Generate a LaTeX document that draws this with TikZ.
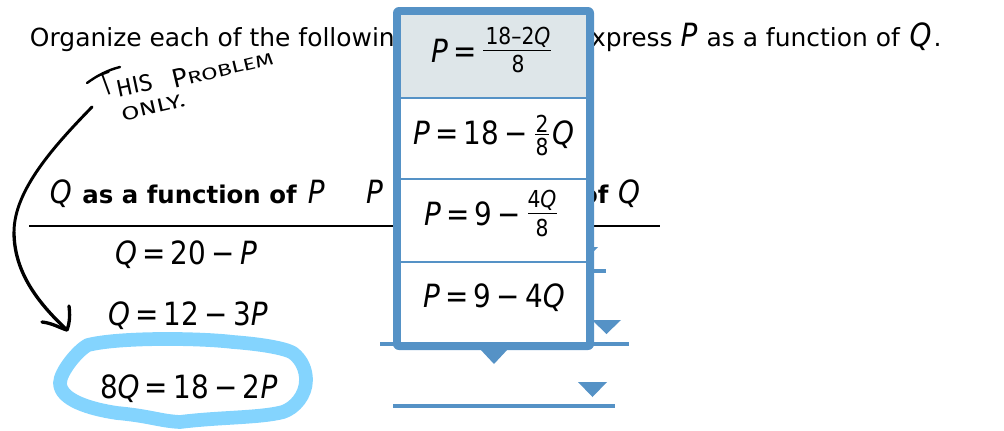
\documentclass[tikz,border=0pt]{standalone}
\usepackage{fontspec}
\setmainfont{DejaVu Sans}
\newfontfamily\mathf[FakeStretch=0.87]{DejaVu Sans}
\newfontfamily\handfont{Fira Sans}
\newfontfamily\handwide[FakeStretch=1.4]{Fira Sans}
\newfontfamily\handlight{Fira Sans Light}
\definecolor{popblue}{HTML}{5592C6}
\definecolor{selrow}{HTML}{DEE6E9}
\definecolor{marker}{HTML}{84D4FE}
\newcommand{\vP}{{\itshape P}}
\newcommand{\vQ}{{\itshape Q}}
\newcommand{\gp}{\hspace{.165em}}
\newcommand{\eqtext}[1]{\mathf\fontsize{24pt}{26pt}\selectfont #1}
\newcommand{\fractext}[1]{\mathf\fontsize{17.5pt}{20pt}\selectfont #1}
\newcommand{\bigvar}[1]{{\mathf\mdseries\fontsize{24pt}{26pt}\selectfont\itshape #1}}
\tikzset{
  x=0.75pt,y=-0.75pt,
  txt/.style={anchor=base west,inner sep=0pt,outer sep=0pt,text=black},
  ctr/.style={anchor=base,inner sep=0pt,outer sep=0pt,text=black},
  title/.style={txt,font=\fontsize{18.7pt}{22pt}\selectfont},
  head/.style={txt,font=\fontsize{18.3pt}{22pt}\selectfont},
  hand/.style={inner sep=0pt,outer sep=0pt,anchor=base west},
  ansrule/.style={draw=popblue,line width=3pt},
  drop/.style={fill=popblue},
  sep/.style={draw=popblue,line width=1.5pt},
  fbar/.style={draw=black,line width=1.4pt},
  pen/.style={draw=black,line width=2.5pt,line cap=round,line join=round},
}
\begin{document}
\begin{tikzpicture}
\useasboundingbox (0,0) rectangle (1004,430);
% title
\node[title] (t1) at (30,46) {Organize each of the following};
\node[title] (t2) at (591,46) {xpress \bigvar{P}\hspace{1pt} as a function of\hspace{1.5pt} \bigvar{Q}\hspace{1.5pt}.};
% header
\node[head] (h1) at (50,203) {\bigvar{Q}\hspace{2pt} \bfseries as a function of\hspace{2pt} \bigvar{P}};
\node[head] (h2) at (366,203) {\bigvar{P}};
\node[head] (h3) at (581,203) {\bfseries of\hspace{1pt} \bigvar{Q}};
\draw[black,line width=1.5pt] (29,226) -- (660,226);
% left equations
\node[txt] (e1) at (115,264) {\eqtext{\vQ\gp=\gp20\gp−\gp\vP}};
\node[txt] (e2) at (108,325) {\eqtext{\vQ\gp=\gp12\gp−\gp3\vP}};
\node[txt] (e3) at (100,398) {\eqtext{8\vQ\gp=\gp18\gp−\gp2\vP}};
% answer blanks
\draw[ansrule] (560,270.5) -- (606,270.5);
\draw[ansrule] (380,343.5) -- (629,343.5);
\draw[ansrule] (393,405.5) -- (615,405.5);
\fill[drop] (569,247) -- (598,247) -- (583.5,262) -- cycle;
\fill[drop] (592,320) -- (621,320) -- (606.5,334) -- cycle;
\fill[drop] (578,382) -- (607,382) -- (592.5,397) -- cycle;
% popup
\fill[popblue,rounded corners=6*0.75pt] (393,7) rectangle (594,350);
\fill[drop] (480,349) -- (508,349) -- (494,364) -- cycle;
\fill[white] (401,15) rectangle (586,342);
\fill[selrow] (401,15) rectangle (586,97);
\draw[sep] (401,98) -- (586,98);
\draw[sep] (401,179) -- (586,179);
\draw[sep] (401,262) -- (586,262);
% popup options
\node[txt] (o1) at (431,62) {\eqtext{\vP\gp=}};
\node[ctr] (o1n) at (518,44) {\fractext{18–2\vQ}};
\node[ctr] (o1d) at (518,72) {\fractext{8}};
\draw[fbar] (483,50.5) -- (551,50.5);
\node[txt] (o2) at (413,144) {\eqtext{\vP\gp=\gp18\gp−}};
\node[ctr] (o2n) at (542,132) {\fractext{2}};
\node[ctr] (o2d) at (542,155) {\fractext{8}};
\draw[fbar] (535,134.5) -- (549,134.5);
\node[txt] (o2q) at (552,144) {\eqtext{\vQ}};
\node[txt] (o3) at (424,225) {\eqtext{\vP\gp=\gp9\gp−}};
\node[ctr] (o3n) at (542,207) {\fractext{4\vQ}};
\node[ctr] (o3d) at (542,236) {\fractext{8}};
\draw[fbar] (528,213.5) -- (557,213.5);
\node[txt] (o4) at (423,307) {\eqtext{\vP\gp=\gp9\gp−\gp4\vQ}};
% marker loop round the third equation
\draw[marker,line width=10.3pt,line join=round] (88,345) .. controls (120,337) and (200,338) .. (233,342)
  .. controls (260,344) and (285,348) .. (293,353)
  .. controls (302,360) and (306,370) .. (306,380)
  .. controls (306,395) and (295,408) .. (283,412)
  .. controls (260,418) and (220,417) .. (180,422)
  .. controls (160,421) and (150,416) .. (117,413)
  .. controls (90,409) and (60,400) .. (60,383)
  .. controls (60,372) and (78,350) .. (88,345) -- cycle;
% handwriting
\node[hand,rotate=20,font=\handlight\fontsize{24pt}{26pt}\selectfont] (n1) at (102,97) {T};
\node[hand,rotate=12,font=\handfont\fontsize{18pt}{20pt}\selectfont] (n2) at (118,97) {HIS};
\node[hand,rotate=13.5] (n3) at (174,88) {{\handfont\fontsize{20pt}{20pt}\selectfont P}{\handwide\fontsize{12.7pt}{14pt}\selectfont ROBLEM}};
\node[hand,rotate=13] (n4) at (123,121) {{\handwide\fontsize{14pt}{14pt}\selectfont ONLY.}};
\coordinate (barA) at (87,83);
\coordinate (barB) at (120,67);
\draw[pen,line width=1.8pt] (barA) .. controls (98,75) and (108,70) .. (barB);
% arrow
\coordinate (arrowstart) at (92,107);
\coordinate (arrowmid) at (14,232);
\coordinate (arrowend) at (67,330);
\draw[pen,line width=2.2pt] (arrowstart) .. controls (55,145) and (14,190) .. (arrowmid);
\draw[pen] (arrowmid) .. controls (14,272) and (38,303) .. (arrowend);
\draw[pen] (42,322) .. controls (52,323) and (60,328) .. (arrowend) .. controls (70,322) and (70,314) .. (69,306);
\end{tikzpicture}
\end{document}
